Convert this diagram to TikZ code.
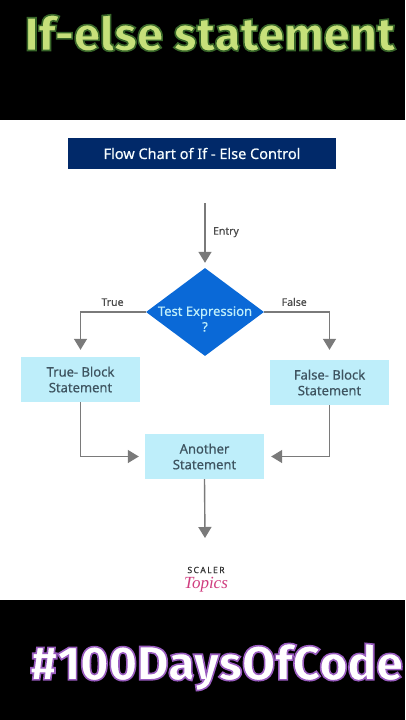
\documentclass[tikz,border=0pt]{standalone}
\usepackage{xcolor}
\usepackage{fontspec}
\usepackage{tikz}
\usetikzlibrary{positioning, arrows.meta, shapes.geometric}
\setmainfont{Noto Sans}[RawFeature={embolden=0.5}]
\newfontfamily\headfont{Fira Sans ExtraBold}
\newfontfamily\logofont{Liberation Serif}
\definecolor{band}{RGB}{0,0,0}
\definecolor{navy}{RGB}{1,41,105}
\definecolor{pale}{RGB}{190,238,250}
\definecolor{blue}{RGB}{10,105,215}
\definecolor{slate}{RGB}{62,84,96}
\definecolor{flow}{RGB}{122,122,122}
\definecolor{lime}{RGB}{198,224,122}
\definecolor{rose}{RGB}{208,62,128}
\newcommand{\outlined}[2]{\special{pdf:code 2 Tr #1 RG 1.6 w}#2\special{pdf:code 0 Tr}}

\begin{document}
\begin{tikzpicture}[
    x=1pt, y=-1pt,
    font=\fontsize{13}{15.7}\selectfont,
    stepbox/.style={
        fill=pale, text=slate, align=center,
        minimum width=119pt, minimum height=45pt, inner sep=0pt
      },
    flowline/.style={-{Triangle[length=11pt, width=13pt]}, draw=flow, line width=1.4pt},
    note/.style={text=black!70, font=\fontsize{10.5}{12}\selectfont},
    bigtext/.style={font=\headfont\fontsize{47}{47}\selectfont, inner sep=0pt}
  ]

  \useasboundingbox (0,0) rectangle (405,720);
  \fill[band] (0,0) rectangle (405,720);
  \fill[white] (0,120) rectangle (405,600);

  \node[bigtext, text=lime] (title) at (210,33) {\outlined{0.22 0.40 0.16}{If-else statement}};
  \node[bigtext, text=white, font=\headfont\fontsize{48}{48}\selectfont, anchor=west] (tag) at (30,667) {\outlined{0.60 0.36 0.75}{\#100DaysOfCode}};

  \node[fill=navy, text=white!88!pale, minimum width=268pt, minimum height=31pt, inner sep=0pt,
    font=\fontsize{14.5}{15}\selectfont] (head) at (202,153.5) {Flow Chart of If - Else Control};

  \node[diamond, fill=blue, minimum width=118pt, minimum height=88pt, aspect=1.34, inner sep=0pt,
    label={[text=pale, align=center, yshift=-7pt]center:Test Expression\\?}] (test) at (205,312) {};

  \node[stepbox] (trueblock) at (80.5,379.5) {True- Block\\Statement};
  \node[stepbox] (falseblock) at (329.5,382.5) {False- Block\\Statement};
  \node[stepbox] (another) at (204.5,456.5) {Another\\Statement};

  \coordinate (entry) at (205,203);
  \coordinate (exit) at (205,538);

  \draw[flowline, shorten >=5pt] (entry) -- (test.north) node[note, pos=0.45, right=4pt] (entrylabel) {Entry};
  \draw[flowline, shorten >=7pt] (test.west) -| node[note, pos=0.255, above=2pt] (truelabel) {True} (trueblock.north);
  \draw[flowline, shorten >=10pt] (test.east) -| node[note, pos=0.23, above=2pt] (falselabel) {False} (falseblock.north);
  \draw[flowline, shorten >=6pt] (trueblock.south) |- (another.west);
  \draw[flowline, shorten >=7pt] (falseblock.south) |- (another.east);
  \draw[flowline] (another.south) -- (exit);

  \node[text=black!80, font=\bfseries\fontsize{8.5}{8.5}\selectfont, inner sep=0pt] (scaler) at (206,570) {S\,C\,A\,L\,E\,R};
  \node[text=rose, font=\logofont\itshape\fontsize{17}{17}\selectfont, inner sep=0pt,
    below=4pt of scaler] (topics) {Topics};

\end{tikzpicture}
\end{document}
